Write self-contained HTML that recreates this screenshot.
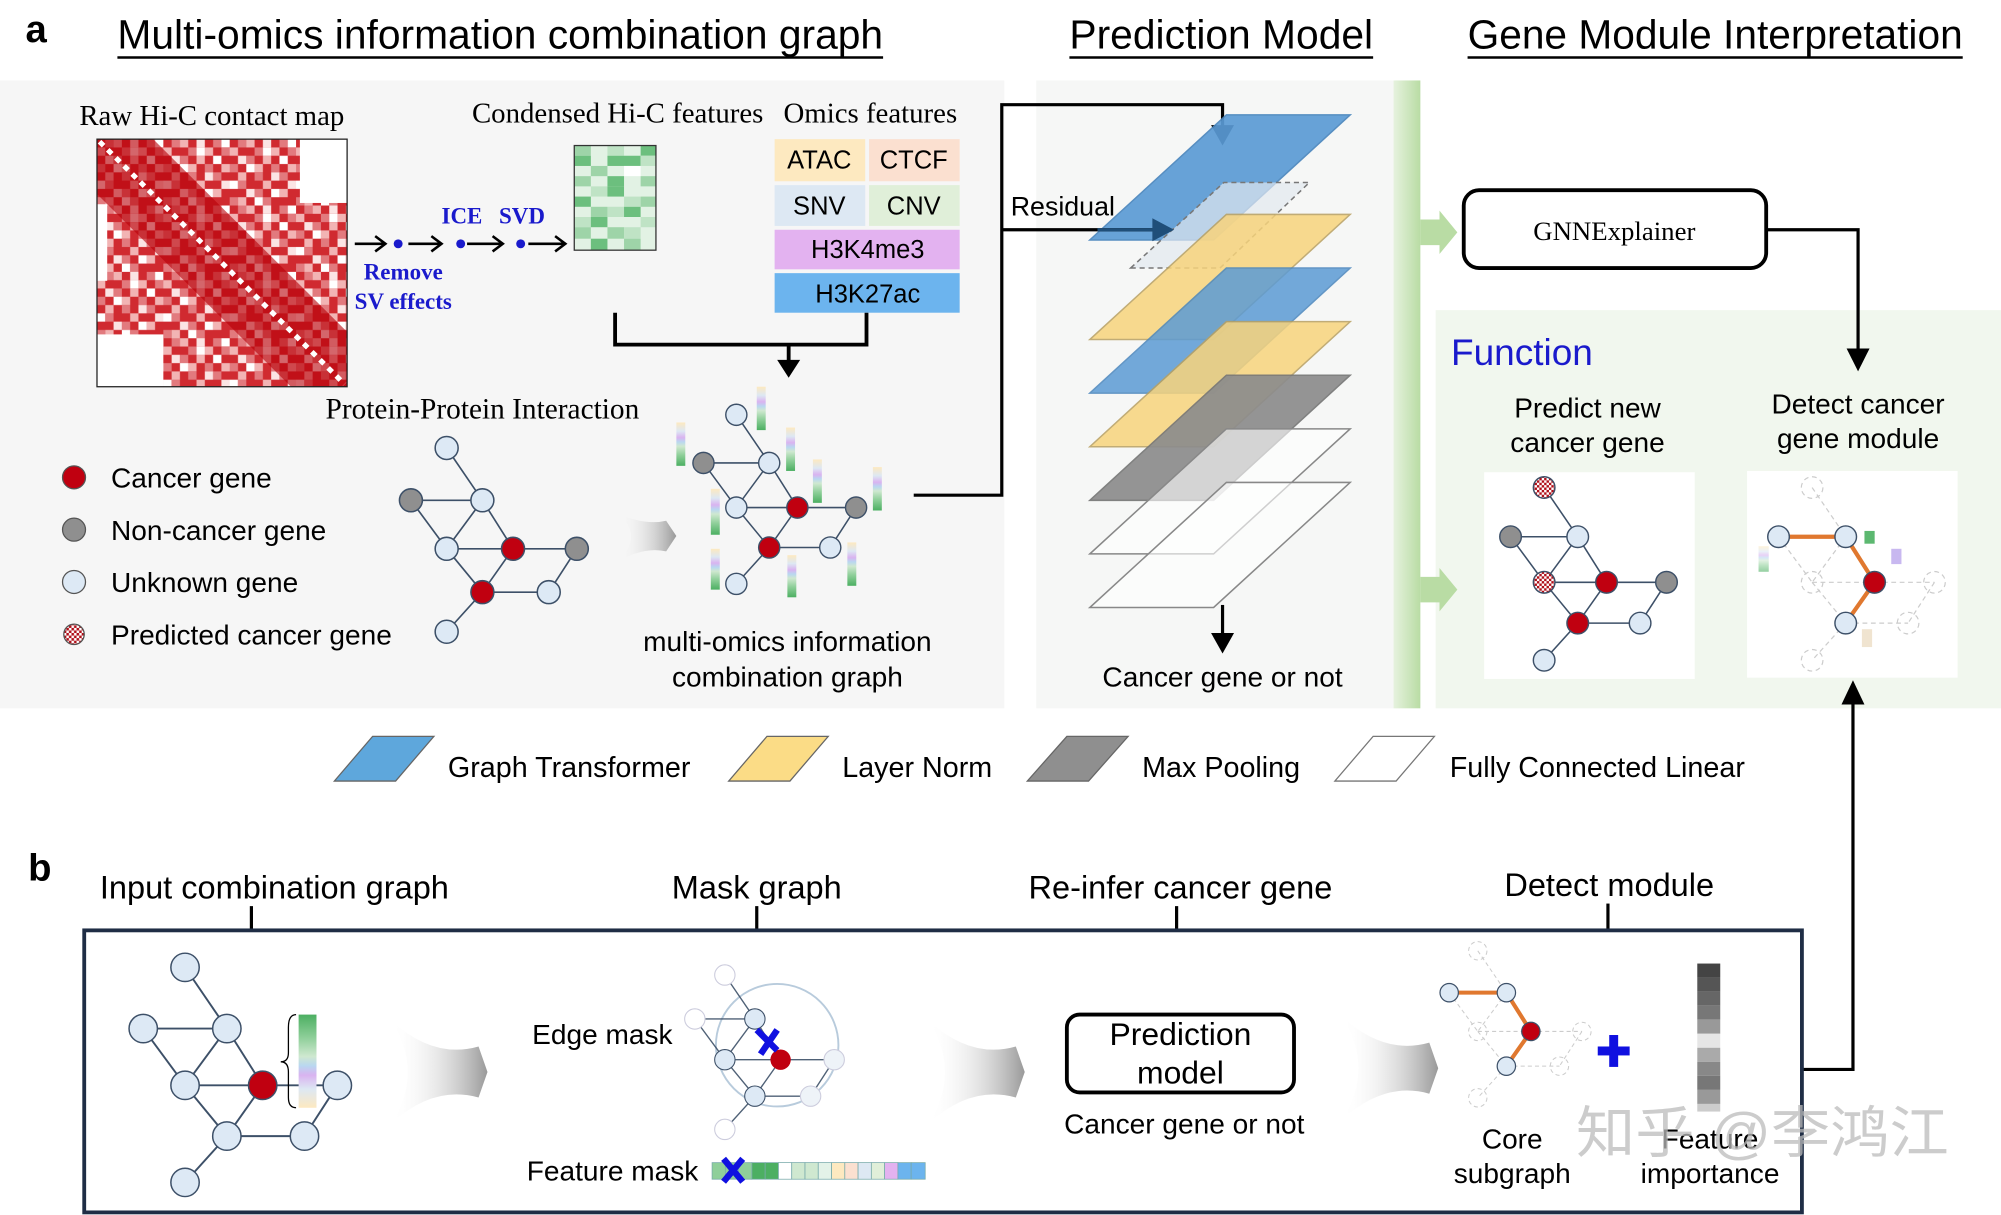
<!DOCTYPE html>
<html><head><meta charset="utf-8"><style>
html,body{margin:0;padding:0;background:#fff;}
svg{display:block;}
text{font-family:"Liberation Sans","Noto Sans CJK SC",sans-serif;}
.serif{font-family:"Liberation Serif",serif;}
</style></head><body>
<svg width="2001" height="1215" viewBox="0 0 1568 952" xmlns="http://www.w3.org/2000/svg">
<defs>
<pattern id="hic" width="52" height="52" patternUnits="userSpaceOnUse" x="76" y="109">
<rect width="52" height="52" fill="#d02a30"/>
<g>
<rect x="6.5" y="0" width="6.5" height="6.5" fill="#e27a7e"/><rect x="13" y="0" width="6.5" height="6.5" fill="#f2b4b4"/><rect x="26" y="0" width="6.5" height="6.5" fill="#fbe4e4"/><rect x="39" y="0" width="6.5" height="6.5" fill="#e27a7e"/><rect x="45.5" y="0" width="6.5" height="6.5" fill="#fff"/>
<rect x="0" y="6.5" width="6.5" height="6.5" fill="#f2b4b4"/><rect x="19.5" y="6.5" width="6.5" height="6.5" fill="#e27a7e"/><rect x="26" y="6.5" width="6.5" height="6.5" fill="#fff"/><rect x="32.5" y="6.5" width="6.5" height="6.5" fill="#f2b4b4"/><rect x="45.5" y="6.5" width="6.5" height="6.5" fill="#e27a7e"/>
<rect x="6.5" y="13" width="6.5" height="6.5" fill="#fbe4e4"/><rect x="13" y="13" width="6.5" height="6.5" fill="#e27a7e"/><rect x="26" y="13" width="6.5" height="6.5" fill="#f2b4b4"/><rect x="39" y="13" width="6.5" height="6.5" fill="#fff"/>
<rect x="0" y="19.5" width="6.5" height="6.5" fill="#e27a7e"/><rect x="13" y="19.5" width="6.5" height="6.5" fill="#fff"/><rect x="19.5" y="19.5" width="6.5" height="6.5" fill="#f2b4b4"/><rect x="32.5" y="19.5" width="6.5" height="6.5" fill="#e27a7e"/><rect x="45.5" y="19.5" width="6.5" height="6.5" fill="#f2b4b4"/>
<rect x="6.5" y="26" width="6.5" height="6.5" fill="#f2b4b4"/><rect x="19.5" y="26" width="6.5" height="6.5" fill="#e27a7e"/><rect x="32.5" y="26" width="6.5" height="6.5" fill="#fbe4e4"/><rect x="39" y="26" width="6.5" height="6.5" fill="#e27a7e"/>
<rect x="0" y="32.5" width="6.5" height="6.5" fill="#fff"/><rect x="6.5" y="32.5" width="6.5" height="6.5" fill="#e27a7e"/><rect x="26" y="32.5" width="6.5" height="6.5" fill="#f2b4b4"/><rect x="45.5" y="32.5" width="6.5" height="6.5" fill="#fbe4e4"/>
<rect x="13" y="39" width="6.5" height="6.5" fill="#fbe4e4"/><rect x="19.5" y="39" width="6.5" height="6.5" fill="#e27a7e"/><rect x="32.5" y="39" width="6.5" height="6.5" fill="#fff"/><rect x="39" y="39" width="6.5" height="6.5" fill="#f2b4b4"/>
<rect x="0" y="45.5" width="6.5" height="6.5" fill="#e27a7e"/><rect x="6.5" y="45.5" width="6.5" height="6.5" fill="#f2b4b4"/><rect x="19.5" y="45.5" width="6.5" height="6.5" fill="#fff"/><rect x="26" y="45.5" width="6.5" height="6.5" fill="#e27a7e"/>
</g>
</pattern>
<pattern id="chk" width="4" height="4" patternUnits="userSpaceOnUse">
<rect width="4" height="4" fill="#fff"/><rect width="2" height="2" fill="#b0101a"/><rect x="2" y="2" width="2" height="2" fill="#b0101a"/>
</pattern>
<linearGradient id="garrow" x1="0" x2="1" y1="0" y2="0">
<stop offset="0" stop-color="#fff" stop-opacity="0"/><stop offset="1" stop-color="#999"/>
</linearGradient>
<linearGradient id="gbar" x1="0" x2="1"><stop offset="0" stop-color="#e6f2de"/><stop offset="1" stop-color="#b9dca4"/></linearGradient>
<linearGradient id="stripe" x1="0" x2="0" y1="0" y2="1">
<stop offset="0" stop-color="#fde9c0"/><stop offset="0.2" stop-color="#dde8f3"/><stop offset="0.35" stop-color="#d9b3f0"/><stop offset="0.45" stop-color="#b9d7f0"/><stop offset="0.55" stop-color="#cfe8d0"/><stop offset="0.75" stop-color="#8fcf9a"/><stop offset="1" stop-color="#4caf62"/>
</linearGradient>
<g id="edges" stroke="#3d5068" stroke-width="1.3" fill="none">
<line x1="0" y1="0" x2="28" y2="41"/><line x1="-28" y1="41" x2="28" y2="41"/><line x1="-28" y1="41" x2="0" y2="79"/><line x1="28" y1="41" x2="0" y2="79"/><line x1="28" y1="41" x2="52" y2="79"/><line x1="0" y1="79" x2="52" y2="79"/><line x1="52" y1="79" x2="102" y2="79"/><line x1="0" y1="79" x2="28" y2="113"/><line x1="52" y1="79" x2="28" y2="113"/><line x1="28" y1="113" x2="80" y2="113"/><line x1="102" y1="79" x2="80" y2="113"/><line x1="28" y1="113" x2="0" y2="144"/>
</g>
</defs>

<!-- backgrounds -->
<rect x="0" y="63" width="787" height="492" fill="#f6f6f6"/>
<rect x="812" y="63" width="285" height="492" fill="#f6f7f6"/>
<rect x="1092" y="63" width="21" height="492" fill="url(#gbar)"/>
<rect x="1125" y="243" width="443" height="312" fill="#f1f7ee"/>

<!-- titles -->
<text x="20" y="33" font-size="30" font-weight="bold">a</text>
<text x="92" y="38" font-size="32" textLength="600" lengthAdjust="spacingAndGlyphs">Multi-omics information combination graph</text>
<line x1="92" y1="45" x2="692" y2="45" stroke="#000" stroke-width="2"/>
<text x="838" y="38" font-size="32" textLength="238" lengthAdjust="spacingAndGlyphs">Prediction Model</text>
<line x1="838" y1="45" x2="1076" y2="45" stroke="#000" stroke-width="2"/>
<text x="1150" y="38" font-size="32" textLength="388" lengthAdjust="spacingAndGlyphs">Gene Module Interpretation</text>
<line x1="1150" y1="45" x2="1538" y2="45" stroke="#000" stroke-width="2"/>

<!-- Hi-C -->
<text class="serif" x="166" y="98" font-size="22.6" text-anchor="middle">Raw Hi-C contact map</text>
<rect x="76" y="109" width="196" height="194" fill="url(#hic)"/>
<polygon points="76,109 120,109 272,260 272,303 228,303 76,152" fill="#b80008" opacity="0.6"/>
<rect x="235" y="109" width="37" height="50" fill="#fff"/>
<rect x="76" y="262" width="52" height="41" fill="#fff"/>
<rect x="76" y="160" width="8" height="60" fill="#fff"/>
<line x1="78" y1="111" x2="270" y2="301" stroke="#fff" stroke-width="4" stroke-dasharray="4.5 4.5"/>
<rect x="76" y="109" width="196" height="194" fill="none" stroke="#222" stroke-width="1"/>

<!-- arrows ICE SVD -->
<g stroke="#000" stroke-width="2" fill="none">
<line x1="278" y1="191" x2="301" y2="191"/><polyline points="294,185 302,191 294,197"/>
<line x1="320" y1="191" x2="345" y2="191"/><polyline points="338,185 346,191 338,197"/>
<line x1="366" y1="191" x2="393" y2="191"/><polyline points="386,185 394,191 386,197"/>
<line x1="414" y1="191" x2="442" y2="191"/><polyline points="435,185 443,191 435,197"/>
</g>
<g fill="#1a1acc"><circle cx="312" cy="191" r="3.5"/><circle cx="361" cy="191" r="3.5"/><circle cx="408" cy="191" r="3.5"/></g>
<g font-size="18" font-weight="bold" fill="#1a1acc">
<text x="362" y="175" text-anchor="middle" class="serif">ICE</text>
<text x="409" y="175" text-anchor="middle" class="serif">SVD</text>
<text x="316" y="219" text-anchor="middle" class="serif">Remove</text>
<text x="316" y="242" text-anchor="middle" class="serif">SV effects</text>
</g>

<!-- condensed features -->
<text class="serif" x="484" y="96" font-size="22.6" text-anchor="middle">Condensed Hi-C features</text>
<g>
<rect x="450" y="114" width="64" height="82" fill="#e2f2e4"/>
<rect x="450" y="114" width="13" height="8" fill="#9ed4a8"/><rect x="476" y="114" width="13" height="8" fill="#bfe3c5"/><rect x="502" y="114" width="12" height="8" fill="#6cbf7e"/>
<rect x="450" y="122" width="13" height="8" fill="#6cbf7e"/><rect x="476" y="122" width="26" height="8" fill="#6cbf7e"/><rect x="502" y="122" width="12" height="8" fill="#bfe3c5"/>
<rect x="463" y="130" width="13" height="8" fill="#9ed4a8"/><rect x="489" y="130" width="13" height="8" fill="#fff"/>
<rect x="450" y="138" width="13" height="8" fill="#9ed4a8"/><rect x="476" y="138" width="13" height="8" fill="#6cbf7e"/><rect x="502" y="138" width="12" height="8" fill="#9ed4a8"/>
<rect x="463" y="146" width="13" height="8" fill="#bfe3c5"/><rect x="476" y="146" width="13" height="8" fill="#6cbf7e"/>
<rect x="450" y="154" width="13" height="8" fill="#6cbf7e"/><rect x="489" y="154" width="13" height="8" fill="#bfe3c5"/><rect x="502" y="154" width="12" height="8" fill="#9ed4a8"/>
<rect x="463" y="162" width="13" height="8" fill="#9ed4a8"/><rect x="476" y="162" width="13" height="8" fill="#bfe3c5"/><rect x="489" y="162" width="13" height="8" fill="#6cbf7e"/>
<rect x="450" y="170" width="13" height="8" fill="#bfe3c5"/><rect x="463" y="170" width="13" height="8" fill="#6cbf7e"/><rect x="502" y="170" width="12" height="8" fill="#bfe3c5"/>
<rect x="450" y="178" width="13" height="9" fill="#9ed4a8"/><rect x="476" y="178" width="13" height="9" fill="#9ed4a8"/><rect x="489" y="178" width="13" height="9" fill="#bfe3c5"/>
<rect x="463" y="187" width="13" height="9" fill="#6cbf7e"/><rect x="489" y="187" width="13" height="9" fill="#9ed4a8"/>
<rect x="450" y="114" width="64" height="82" fill="none" stroke="#333" stroke-width="1"/>
</g>

<!-- omics -->
<text class="serif" x="682" y="96" font-size="22.6" text-anchor="middle">Omics features</text>
<g font-size="20" text-anchor="middle">
<rect x="607" y="109" width="71" height="33" fill="#fde9c0"/><text x="642" y="132">ATAC</text>
<rect x="681" y="109" width="71" height="33" fill="#fbe0d0"/><text x="716" y="132">CTCF</text>
<rect x="607" y="145" width="71" height="32" fill="#dde8f3"/><text x="642" y="168">SNV</text>
<rect x="681" y="145" width="71" height="32" fill="#e0efd9"/><text x="716" y="168">CNV</text>
<rect x="607" y="180" width="145" height="31" fill="#e3b2f0"/><text x="680" y="202">H3K4me3</text>
<rect x="607" y="214" width="145" height="31" fill="#6cb4ee"/><text x="680" y="237">H3K27ac</text>
</g>
<polyline points="482,245 482,270 679,270 679,245" fill="none" stroke="#000" stroke-width="3"/>
<line x1="618" y1="270" x2="618" y2="284" stroke="#000" stroke-width="3"/>
<polygon points="609,282 627,282 618,296" fill="#000"/>

<!-- legend -->
<text class="serif" x="378" y="328" font-size="23" text-anchor="middle">Protein-Protein Interaction</text>
<circle cx="58" cy="374" r="9" fill="#c00010" stroke="#555" stroke-width="1"/>
<circle cx="58" cy="415" r="9" fill="#8f8f8f" stroke="#555" stroke-width="1"/>
<circle cx="58" cy="456" r="9" fill="#dde9f5" stroke="#555" stroke-width="1"/>
<circle cx="58" cy="497" r="8" fill="url(#chk)" stroke="#555" stroke-width="1"/>
<g font-size="22"><text x="87" y="382">Cancer gene</text><text x="87" y="423">Non-cancer gene</text><text x="87" y="464">Unknown gene</text><text x="87" y="505">Predicted cancer gene</text></g>

<!-- PPI graph -->
<g transform="translate(350,351)">
<use href="#edges"/>
<g stroke="#3d5068" stroke-width="1.2">
<circle cx="0" cy="0" r="9" fill="#dde9f5"/><circle cx="-28" cy="41" r="9" fill="#8f8f8f"/><circle cx="28" cy="41" r="9" fill="#dde9f5"/><circle cx="0" cy="79" r="9" fill="#dde9f5"/><circle cx="52" cy="79" r="9" fill="#c00010"/><circle cx="102" cy="79" r="9" fill="#8f8f8f"/><circle cx="28" cy="113" r="9" fill="#c00010"/><circle cx="80" cy="113" r="9" fill="#dde9f5"/><circle cx="0" cy="144" r="9" fill="#dde9f5"/>
</g></g>
<path d="M484,402 Q505,420 484,440 Q505,428 522,432 L530,420 L522,408 Q505,412 484,402 Z" fill="url(#garrow)"/>

<!-- combination graph -->
<g fill="url(#stripe)">
<rect x="593" y="303" width="7" height="34"/><rect x="530" y="331" width="7" height="34"/><rect x="616" y="335" width="7" height="34"/><rect x="637" y="360" width="7" height="34"/><rect x="684" y="366" width="7" height="34"/><rect x="557" y="383" width="7" height="36"/><rect x="557" y="430" width="7" height="32"/><rect x="617" y="435" width="7" height="33"/><rect x="664" y="425" width="7" height="34"/>
</g>
<g transform="translate(577,325) scale(0.92)">
<use href="#edges"/>
<g stroke="#3d5068" stroke-width="1.2">
<circle cx="0" cy="0" r="9" fill="#dde9f5"/><circle cx="-28" cy="41" r="9" fill="#8f8f8f"/><circle cx="28" cy="41" r="9" fill="#dde9f5"/><circle cx="0" cy="79" r="9" fill="#dde9f5"/><circle cx="52" cy="79" r="9" fill="#c00010"/><circle cx="102" cy="79" r="9" fill="#8f8f8f"/><circle cx="28" cy="113" r="9" fill="#c00010"/><circle cx="80" cy="113" r="9" fill="#dde9f5"/><circle cx="0" cy="144" r="9" fill="#dde9f5"/>
</g></g>
<g font-size="22" text-anchor="middle"><text x="617" y="510">multi-omics information</text><text x="617" y="538">combination graph</text></g>

<!-- connectors to model -->
<polyline points="716,388 785,388 785,82 958,82 958,100" fill="none" stroke="#000" stroke-width="2.5"/>
<polygon points="949,98 967,98 958,114" fill="#000"/>

<!-- layers -->
<g stroke-width="1.2">
<polygon points="854,188 951,188 1058,90 961,90" fill="#5b9bd5" stroke="#4a86bd" opacity="0.92"/>
<polygon points="886,210 956,210 1026,143 959,143" fill="#e3e8ef" fill-opacity="0.7" stroke="#777" stroke-dasharray="4 3"/>
<polygon points="854,266 951,266 1058,168 961,168" fill="#f8d47c" stroke="#b8a060" opacity="0.85"/>
<polygon points="854,308 951,308 1058,210 961,210" fill="#5b9bd5" stroke="#4a86bd" opacity="0.85"/>
<polygon points="854,350 951,350 1058,252 961,252" fill="#f8d47c" stroke="#b8a060" opacity="0.85"/>
<polygon points="854,392 951,392 1058,294 961,294" fill="#8c8c8c" stroke="#777" opacity="0.92"/>
<polygon points="854,434 951,434 1058,336 961,336" fill="#fff" fill-opacity="0.6" stroke="#888"/>
<polygon points="854,476 951,476 1058,378 961,378" fill="#fff" fill-opacity="0.6" stroke="#888"/>
</g>
<line x1="785" y1="180" x2="905" y2="180" stroke="#000" stroke-width="2.5"/>
<line x1="860" y1="180" x2="905" y2="180" stroke="#1f4e79" stroke-width="2.5"/>
<polygon points="903,171 920,180 903,189" fill="#1f4e79"/>
<text x="792" y="169" font-size="21">Residual</text>
<line x1="958" y1="474" x2="958" y2="498" stroke="#000" stroke-width="2.5"/>
<polygon points="949,496 967,496 958,512" fill="#000"/>
<text x="958" y="538" font-size="22" text-anchor="middle">Cancer gene or not</text>

<!-- green arrows -->
<polygon points="1113,172 1128,172 1128,165 1142,182 1128,199 1128,192 1113,192" fill="#b9dca4"/>
<polygon points="1113,452 1128,452 1128,445 1142,462 1128,479 1128,472 1113,472" fill="#b9dca4"/>

<!-- GNNExplainer -->
<rect x="1147" y="149" width="237" height="61" rx="12" fill="#fff" stroke="#000" stroke-width="3"/>
<text class="serif" x="1265" y="188" font-size="21" text-anchor="middle">GNNExplainer</text>
<polyline points="1384,180 1456,180 1456,275" fill="none" stroke="#000" stroke-width="2.5"/>
<polygon points="1447,273 1465,273 1456,291" fill="#000"/>

<text x="1137" y="286" font-size="29" fill="#1a1acc">Function</text>
<g font-size="22" text-anchor="middle">
<text x="1244" y="327">Predict new</text><text x="1244" y="354">cancer gene</text>
<text x="1456" y="324">Detect cancer</text><text x="1456" y="351">gene module</text>
</g>
<rect x="1163" y="370" width="165" height="162" fill="#fff"/>
<rect x="1369" y="369" width="165" height="162" fill="#fff"/>
<g transform="translate(1210,382) scale(0.94)">
<use href="#edges"/>
<g stroke="#3d5068" stroke-width="1.2">
<circle cx="0" cy="0" r="9" fill="url(#chk)"/><circle cx="-28" cy="41" r="9" fill="#8f8f8f"/><circle cx="28" cy="41" r="9" fill="#dde9f5"/><circle cx="0" cy="79" r="9" fill="url(#chk)"/><circle cx="52" cy="79" r="9" fill="#c00010"/><circle cx="102" cy="79" r="9" fill="#8f8f8f"/><circle cx="28" cy="113" r="9" fill="#c00010"/><circle cx="80" cy="113" r="9" fill="#dde9f5"/><circle cx="0" cy="144" r="9" fill="#dde9f5"/>
</g></g>
<!-- card 2 -->
<g transform="translate(1420,382) scale(0.94)">
<g stroke="#ccc" stroke-width="1" stroke-dasharray="4 3" fill="none">
<line x1="0" y1="0" x2="28" y2="41"/><line x1="-28" y1="41" x2="0" y2="79"/><line x1="28" y1="41" x2="0" y2="79"/><line x1="0" y1="79" x2="52" y2="79"/><line x1="52" y1="79" x2="102" y2="79"/><line x1="0" y1="79" x2="28" y2="113"/><line x1="28" y1="113" x2="80" y2="113"/><line x1="102" y1="79" x2="80" y2="113"/><line x1="28" y1="113" x2="0" y2="144"/>
<circle cx="0" cy="0" r="9"/><circle cx="0" cy="79" r="9"/><circle cx="102" cy="79" r="9"/><circle cx="80" cy="113" r="9"/><circle cx="0" cy="144" r="9"/>
</g>
<polyline points="-28,41 28,41 52,79 28,113" fill="none" stroke="#e0782f" stroke-width="3.5"/>
<g stroke="#3d5068" stroke-width="1.2">
<circle cx="-28" cy="41" r="9" fill="#dde9f5"/><circle cx="28" cy="41" r="9" fill="#dde9f5"/><circle cx="52" cy="79" r="9" fill="#c00010"/><circle cx="28" cy="113" r="9" fill="#dde9f5"/>
</g></g>
<rect x="1461" y="416" width="8" height="10" fill="#5cb870"/>
<rect x="1378" y="428" width="8" height="20" fill="url(#stripe)" opacity="0.6"/>
<rect x="1482" y="430" width="8" height="12" fill="#c8b8f0"/>
<rect x="1459" y="493" width="8" height="14" fill="#f0e4d0"/>
<polyline points="1412,838 1452,838 1452,550" fill="none" stroke="#000" stroke-width="2.5"/>
<polygon points="1443,552 1461,552 1452,533" fill="#000"/>

<!-- legend row -->
<polygon points="262,612 310,612 340,577 292,577" fill="#5ea7dc" stroke="#666" stroke-width="1"/>
<polygon points="571,612 619,612 649,577 601,577" fill="#fbdc86" stroke="#666" stroke-width="1"/>
<polygon points="805,612 853,612 884,577 836,577" fill="#8f8f8f" stroke="#666" stroke-width="1"/>
<polygon points="1046,612 1094,612 1124,577 1076,577" fill="#fff" stroke="#777" stroke-width="1"/>
<g font-size="22.5"><text x="351" y="609">Graph Transformer</text><text x="660" y="609">Layer Norm</text><text x="895" y="609">Max Pooling</text><text x="1136" y="609">Fully Connected Linear</text></g>

<!-- panel b -->
<text x="22" y="690" font-size="30" font-weight="bold">b</text>
<g font-size="25.5" text-anchor="middle">
<text x="215" y="704">Input combination graph</text><text x="593" y="704">Mask graph</text><text x="925" y="704">Re-infer cancer gene</text><text x="1261" y="702">Detect module</text>
</g>
<g stroke="#000" stroke-width="2.5"><line x1="197" y1="710" x2="197" y2="729"/><line x1="593" y1="710" x2="593" y2="729"/><line x1="922" y1="710" x2="922" y2="729"/><line x1="1260" y1="708" x2="1260" y2="729"/></g>
<rect x="66" y="729" width="1346" height="221" fill="#fff" stroke="#1f2d45" stroke-width="3"/>

<g transform="translate(145,758) scale(1.17)">
<use href="#edges"/>
<g stroke="#3d5068" stroke-width="1">
<circle cx="0" cy="0" r="9.5" fill="#dde9f5"/><circle cx="-28" cy="41" r="9.5" fill="#dde9f5"/><circle cx="28" cy="41" r="9.5" fill="#dde9f5"/><circle cx="0" cy="79" r="9.5" fill="#dde9f5"/><circle cx="52" cy="79" r="9.5" fill="#c00010"/><circle cx="102" cy="79" r="9.5" fill="#dde9f5"/><circle cx="28" cy="113" r="9.5" fill="#dde9f5"/><circle cx="80" cy="113" r="9.5" fill="#dde9f5"/><circle cx="0" cy="144" r="9.5" fill="#dde9f5"/>
</g></g>
<rect x="234" y="795" width="14" height="73" fill="url(#stripe)" transform="rotate(180 241 831.5)"/>
<path d="M232,795 Q226,795 226,805 L226,825 Q226,832 220,832 Q226,832 226,840 L226,860 Q226,868 232,868" fill="none" stroke="#000" stroke-width="1"/>

<g>
<path d="M307,800 Q340,830 375,820 L382,840 L375,860 Q340,850 307,880 Q332,840 307,800 Z" fill="url(#garrow)"/>
<path d="M728,800 Q761,830 796,820 L803,840 L796,860 Q761,850 728,880 Q753,840 728,800 Z" fill="url(#garrow)"/>
<path d="M1052,797 Q1085,827 1120,817 L1127,837 L1120,857 Q1085,847 1052,877 Q1077,837 1052,797 Z" fill="url(#garrow)"/>
</g>

<!-- mask graph -->
<text x="472" y="818" font-size="22" text-anchor="middle">Edge mask</text>
<circle cx="609" cy="819" r="48" fill="none" stroke="#b8cbdc" stroke-width="1.5"/>
<g transform="translate(568,764) scale(0.84)">
<use href="#edges" opacity="0.9"/>
<g stroke="#3d5068" stroke-width="1">
<circle cx="0" cy="0" r="9.5" fill="#fff" stroke="#ccd" /><circle cx="-28" cy="41" r="9.5" fill="#fff" stroke="#ccd"/><circle cx="28" cy="41" r="9.5" fill="#dde9f5"/><circle cx="0" cy="79" r="9.5" fill="#dde9f5"/><circle cx="52" cy="79" r="9.5" fill="#c00010" stroke="none"/><circle cx="102" cy="79" r="9.5" fill="#eef3f8" stroke="#ccd"/><circle cx="28" cy="113" r="9.5" fill="#dde9f5"/><circle cx="80" cy="113" r="9.5" fill="#eef3f8" stroke="#ccd"/><circle cx="0" cy="144" r="9.5" fill="#fff" stroke="#ccd"/>
</g></g>
<g stroke="#1010e0" stroke-width="5"><line x1="593" y1="807" x2="609" y2="823"/><line x1="609" y1="807" x2="596" y2="826"/></g>
<text x="480" y="925" font-size="22" text-anchor="middle">Feature mask</text>
<g stroke="#7aa" stroke-width="0.6">
<rect x="558" y="911" width="10.4" height="13" fill="#8fcf9a"/><rect x="568.4" y="911" width="10.4" height="13" fill="#8fcf9a"/><rect x="578.8" y="911" width="10.4" height="13" fill="#8fcf9a"/><rect x="589.2" y="911" width="10.4" height="13" fill="#4caf62"/><rect x="599.6" y="911" width="10.4" height="13" fill="#4caf62"/><rect x="610" y="911" width="10.4" height="13" fill="#fff"/><rect x="620.4" y="911" width="10.4" height="13" fill="#cfe8d0"/><rect x="630.8" y="911" width="10.4" height="13" fill="#cfe8d0"/><rect x="641.2" y="911" width="10.4" height="13" fill="#e3f2e8"/><rect x="651.6" y="911" width="10.4" height="13" fill="#fde9c0"/><rect x="662" y="911" width="10.4" height="13" fill="#fbe0d0"/><rect x="672.4" y="911" width="10.4" height="13" fill="#dde8f3"/><rect x="682.8" y="911" width="10.4" height="13" fill="#e0efd9"/><rect x="693.2" y="911" width="10.4" height="13" fill="#e3b2f0"/><rect x="703.6" y="911" width="10.4" height="13" fill="#6cb4ee"/><rect x="714" y="911" width="11" height="13" fill="#6cb4ee"/>
</g>
<g stroke="#1010e0" stroke-width="5"><line x1="567" y1="908" x2="582" y2="926"/><line x1="582" y1="908" x2="567" y2="926"/></g>

<!-- prediction model -->
<rect x="836" y="795" width="178" height="61" rx="10" fill="#fff" stroke="#000" stroke-width="3"/>
<g font-size="25" text-anchor="middle"><text x="925" y="819">Prediction</text><text x="925" y="849">model</text></g>
<text x="928" y="888" font-size="22" text-anchor="middle">Cancer gene or not</text>

<!-- core subgraph -->
<g transform="translate(1158,745) scale(0.8)">
<g stroke="#ccc" stroke-width="1" stroke-dasharray="4 3" fill="none">
<line x1="0" y1="0" x2="28" y2="41"/><line x1="-28" y1="41" x2="0" y2="79"/><line x1="28" y1="41" x2="0" y2="79"/><line x1="0" y1="79" x2="52" y2="79"/><line x1="52" y1="79" x2="102" y2="79"/><line x1="0" y1="79" x2="28" y2="113"/><line x1="28" y1="113" x2="80" y2="113"/><line x1="102" y1="79" x2="80" y2="113"/><line x1="28" y1="113" x2="0" y2="144"/>
<circle cx="0" cy="0" r="9"/><circle cx="0" cy="79" r="9"/><circle cx="102" cy="79" r="9"/><circle cx="80" cy="113" r="9"/><circle cx="0" cy="144" r="9"/>
</g>
<polyline points="-28,41 28,41 52,79 28,113" fill="none" stroke="#e0782f" stroke-width="4"/>
<g stroke="#3d5068" stroke-width="1.2">
<circle cx="-28" cy="41" r="9" fill="#dde9f5"/><circle cx="28" cy="41" r="9" fill="#dde9f5"/><circle cx="52" cy="79" r="9" fill="#c00010"/><circle cx="28" cy="113" r="9" fill="#dde9f5"/>
</g></g>
<g fill="#1010e0"><rect x="1261" y="811" width="7" height="25"/><rect x="1252" y="820" width="25" height="7"/></g>
<g>
<rect x="1330" y="755" width="18" height="11" fill="#444"/><rect x="1330" y="766" width="18" height="11" fill="#555"/><rect x="1330" y="777" width="18" height="11" fill="#666"/><rect x="1330" y="788" width="18" height="11" fill="#777"/><rect x="1330" y="799" width="18" height="11" fill="#999"/><rect x="1330" y="810" width="18" height="11" fill="#e6e6e6"/><rect x="1330" y="821" width="18" height="11" fill="#aaa"/><rect x="1330" y="832" width="18" height="11" fill="#888"/><rect x="1330" y="843" width="18" height="11" fill="#777"/><rect x="1330" y="854" width="18" height="11" fill="#999"/><rect x="1330" y="865" width="18" height="6" fill="#ccc"/>
</g>
<g font-size="22" text-anchor="middle"><text x="1185" y="900">Core</text><text x="1185" y="927">subgraph</text><text x="1340" y="900">Feature</text><text x="1340" y="927">importance</text></g>
<text x="1235" y="903" font-size="44" fill="#bbb" fill-opacity="0.75" textLength="292" lengthAdjust="spacingAndGlyphs">知乎 @李鸿江</text>
</svg>
</body></html>
